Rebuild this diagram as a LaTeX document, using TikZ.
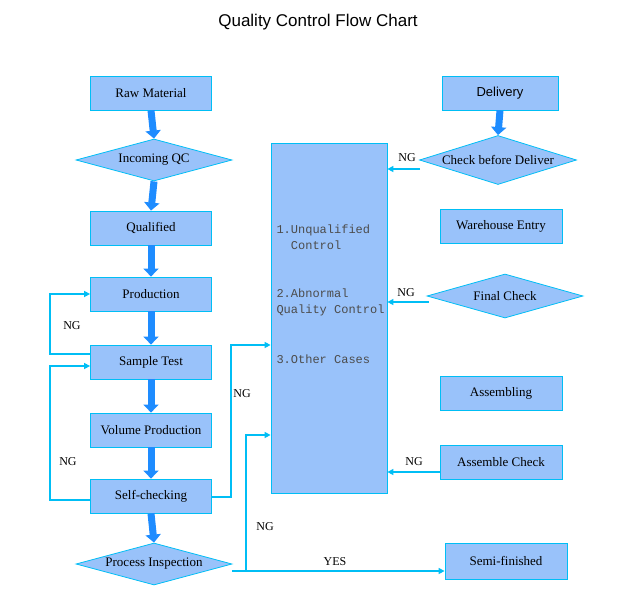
\documentclass[tikz,border=0pt]{standalone}
\usepackage{fontspec}
\setmainfont{Liberation Serif}
\newfontfamily\sansf{Liberation Sans}
\newfontfamily\monof{Liberation Mono}
\usetikzlibrary{shapes.geometric,arrows.meta}
\definecolor{fillb}{RGB}{153,194,250}
\definecolor{edgec}{RGB}{0,190,245}
\definecolor{blk}{RGB}{30,140,255}
\begin{document}
\begin{tikzpicture}[x=1pt,y=-1pt,
  box/.style={draw=edgec,fill=fillb,line width=0.8pt,minimum width=121pt,minimum height=34pt,inner sep=0pt,font=\fontsize{13}{15}\selectfont},
  dia/.style={diamond,aspect=3.7,draw=edgec,fill=fillb,line width=0.8pt,inner sep=0pt,font=\fontsize{13}{15}\selectfont},
  big/.style={-{Triangle[width=15pt,length=8pt]},line width=7pt,draw=blk},
  fb/.style={draw=edgec,line width=2pt,-{Triangle[width=6pt,length=6pt]}},
  lab/.style={font=\fontsize{12}{14}\selectfont}]
\useasboundingbox (0,0) rectangle (640,602);
\node[font=\sansf\fontsize{17}{20}\selectfont] (title) at (318,22) {Quality Control Flow Chart};
\node[box] (raw) at (151,93) {Raw Material};
\node[dia,minimum width=156pt,minimum height=42pt] (iqc) at (154,160) {Incoming QC};
\node[box] (qual) at (151,228) {Qualified};
\node[box] (prod) at (151,294) {Production};
\node[box] (samp) at (151,362) {Sample Test};
\node[box] (vol) at (151,430) {Volume Production};
\node[box] (self) at (151,496) {Self-checking};
\node[dia,minimum width=156pt,minimum height=42pt] (pi) at (154,564) {Process Inspection};
\node[box,minimum width=116pt,minimum height=350pt] (qc) at (329,318) {};
\node[anchor=west,align=left,text=black!70,font=\monof\fontsize{12}{16}\selectfont] (t1) at (273,237) {1.Unqualified\\\ \ Control};
\node[anchor=west,align=left,text=black!70,font=\monof\fontsize{12}{16}\selectfont] (t2) at (273,302) {2.Abnormal\\Quality Control};
\node[anchor=west,text=black!70,font=\monof\fontsize{12}{16}\selectfont] (t3) at (273,359) {3.Other Cases};
\node[box,minimum width=116pt,font=\sansf\fontsize{13}{15}\selectfont] (del) at (500,93) {Delivery};
\node[dia,minimum width=157pt,minimum height=49pt] (cbd) at (498,160) {Check before Deliver};
\node[box,minimum width=122pt] (wh) at (501,226) {Warehouse Entry};
\node[dia,minimum width=156pt,minimum height=44pt] (fc) at (505,296) {Final Check};
\node[box,minimum width=122pt] (asm) at (501,393) {Assembling};
\node[box,minimum width=122pt] (ac) at (501,462) {Assemble Check};
\node[box,minimum width=122pt,minimum height=36pt] (semi) at (506,561) {Semi-finished};
\draw[big] (raw.south) -- (iqc.north);
\draw[big] (iqc.south) -- (qual.north);
\draw[big] (qual.south) -- (prod.north);
\draw[big] (prod.south) -- (samp.north);
\draw[big] (samp.south) -- (vol.north);
\draw[big] (vol.south) -- (self.north);
\draw[big] (self.south) -- (pi.north);
\draw[big] (del.south) -- (cbd.north);
\coordinate (a1) at (50,354);
\coordinate (a2) at (50,294);
\draw[fb] (samp.west|-a1) -- (a1) -- (a2) -- (prod.west);
\node[lab] (ng1) at (72,326) {NG};
\coordinate (b1) at (50,500);
\coordinate (b2) at (50,366);
\draw[fb] (self.west|-b1) -- (b1) -- (b2) -- (samp.west|-b2);
\node[lab] (ng2) at (68,462) {NG};
\coordinate (c1) at (231,497);
\coordinate (c2) at (231,345);
\draw[fb] (self.east|-c1) -- (c1) -- (c2) -- (qc.west|-c2);
\node[lab] (ng3) at (242,394) {NG};
\coordinate (d0) at (232,571);
\coordinate (d1) at (246,571);
\coordinate (d2) at (246,435);
\draw[fb] (d0) -- (d1) -- (d2) -- (qc.west|-d2);
\node[lab] (ng4) at (265,527) {NG};
\draw[fb] (d0) -- (semi.west|-d0);
\node[lab] (yes) at (335,562) {YES};
\coordinate (e1) at (420,169);
\draw[fb] (e1) -- (qc.east|-e1);
\node[lab] (ng5) at (407,158) {NG};
\coordinate (f1) at (429,302);
\draw[fb] (f1) -- (qc.east|-f1);
\node[lab] (ng6) at (406,293) {NG};
\draw[fb] (ac.west|-0,472) -- (qc.east|-0,472);
\node[lab] (ng7) at (414,462) {NG};
\end{tikzpicture}
\end{document}
